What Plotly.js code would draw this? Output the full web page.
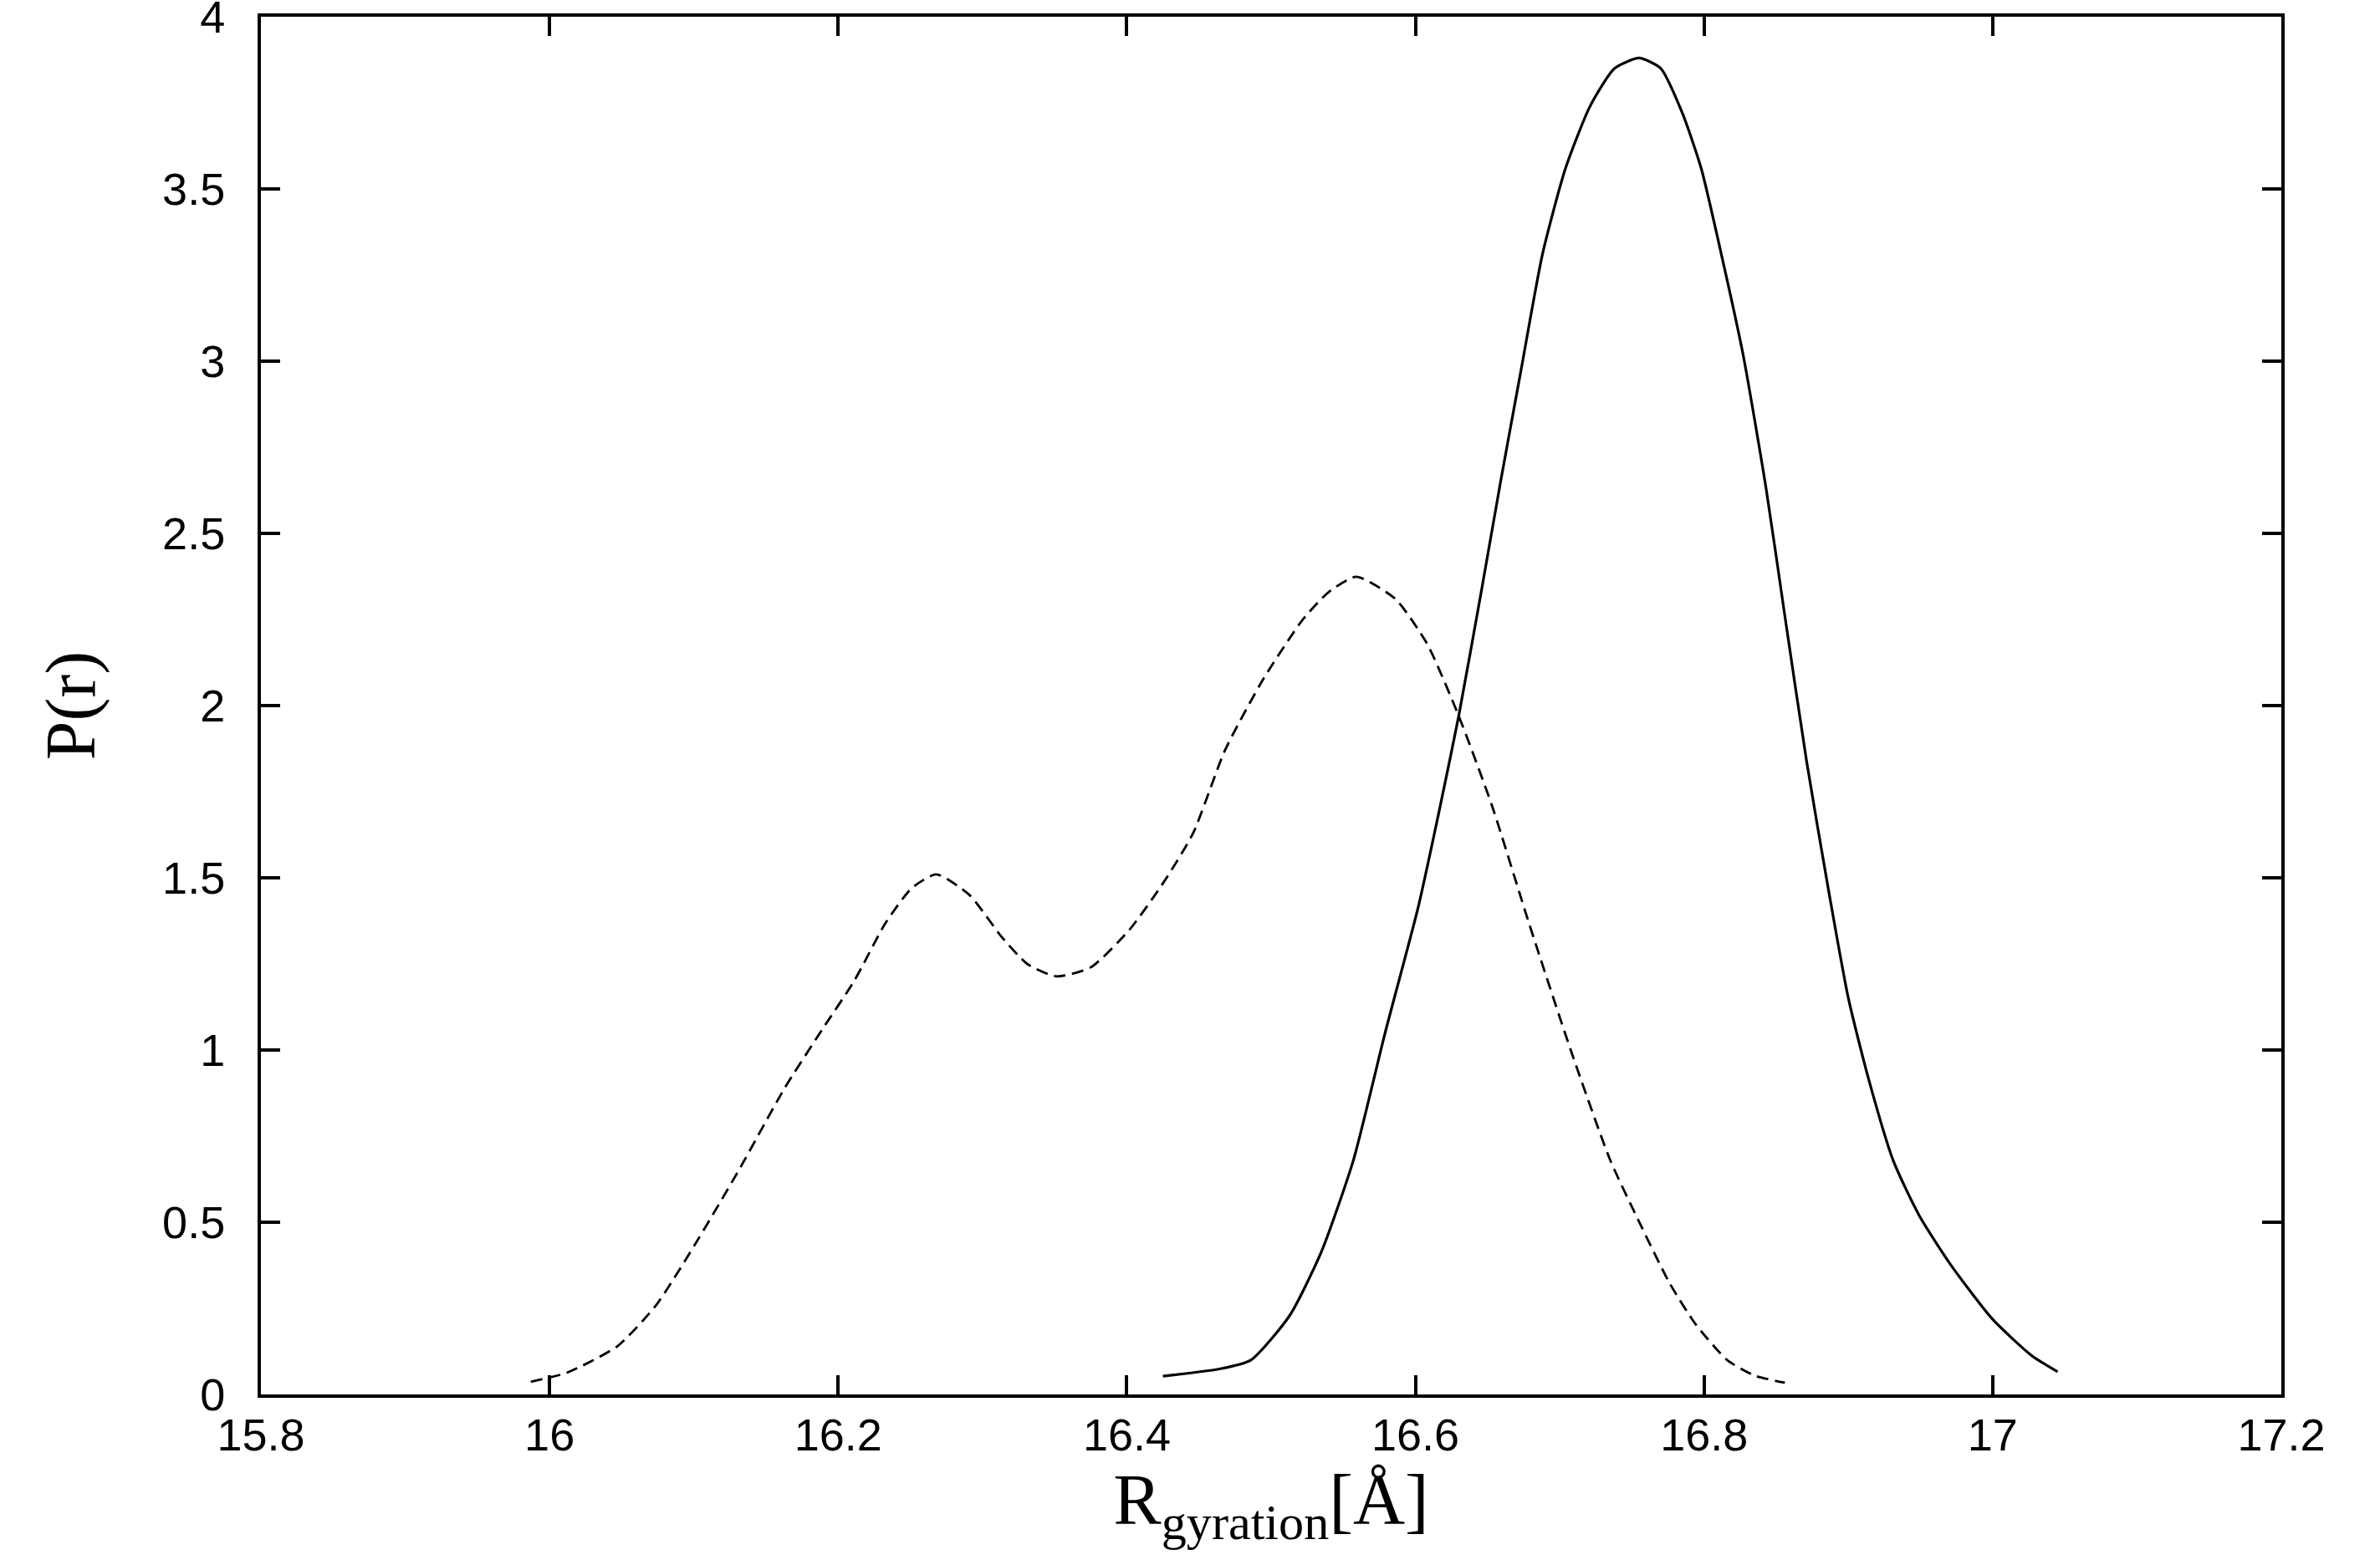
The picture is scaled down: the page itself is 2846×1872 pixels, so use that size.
<!DOCTYPE html>
<html>
<head>
<meta charset="utf-8">
<script src="https://cdn.plot.ly/plotly-3.0.1.min.js"></script>
<style>html,body{margin:0;padding:0;background:#fff;}#chart{width:2846px;height:1872px;}</style>
</head>
<body>
<div id="chart"></div>
<script>
// Dashed curve
var dashedX = [15.987,16.012,16.047,16.074,16.100,16.131,16.163,16.189,16.211,16.233,16.251,16.268,16.291,16.313,16.331,16.351,16.375,16.402,16.426,16.446,16.468,16.495,16.522,16.540,16.559,16.586,16.608,16.630,16.653,16.679,16.708,16.735,16.754,16.776,16.794,16.816,16.835,16.856];
var dashedY = [0.037,0.063,0.14,0.26,0.43,0.65,0.89,1.06,1.20,1.37,1.47,1.51,1.45,1.33,1.25,1.214,1.24,1.35,1.49,1.63,1.87,2.08,2.25,2.33,2.374,2.31,2.18,1.97,1.71,1.364,0.995,0.68,0.51,0.324,0.205,0.10,0.055,0.034];
// Solid curve
var solidX = [16.425,16.464,16.486,16.513,16.535,16.557,16.579,16.602,16.617,16.630,16.646,16.659,16.673,16.688,16.704,16.721,16.738,16.755,16.770,16.785,16.798,16.812,16.827,16.843,16.856,16.871,16.886,16.900,16.914,16.931,16.949,16.971,17.000,17.027,17.045];
var solidY = [0.053,0.074,0.10,0.23,0.416,0.68,1.05,1.416,1.705,1.97,2.34,2.65,2.97,3.31,3.56,3.74,3.85,3.88,3.85,3.72,3.56,3.31,3.02,2.63,2.26,1.84,1.47,1.15,0.916,0.68,0.52,0.376,0.218,0.113,0.066];

var xTicks = [15.8,16,16.2,16.4,16.6,16.8,17,17.2];
var xTickText = ['15.8','16','16.2','16.4','16.6','16.8','17','17.2'];
var yTicks = [0,0.5,1,1.5,2,2.5,3,3.5,4];
var yTickText = ['0','0.5','1','1.5','2','2.5','3','3.5','4'];

var traces = [
  {x: dashedX, y: dashedY, mode: 'lines', type: 'scatter',
   line: {color: '#000', width: 2.8, dash: '14px,8px', shape: 'spline', smoothing: 0.6}},
  {x: solidX, y: solidY, mode: 'lines', type: 'scatter',
   line: {color: '#000', width: 3.2, shape: 'spline', smoothing: 0.6}}
];

var axisCommon = {
  showgrid: false, zeroline: false, showline: true, linecolor: '#000', linewidth: 4,
  mirror: 'ticks', ticks: 'inside', ticklen: 23, tickwidth: 4, tickcolor: '#000',
  tickfont: {family: 'Liberation Sans, Arial, sans-serif', size: 54, color: '#000'},
  ticklabeloverflow: 'allow'
};

var layout = {
  width: 2846, height: 1872,
  margin: {l: 312, r: 118, t: 20, b: 204},
  paper_bgcolor: '#fff', plot_bgcolor: '#fff',
  showlegend: false,
  xaxis: Object.assign({}, axisCommon, {
    range: [15.8, 17.2], tickvals: xTicks, ticktext: xTickText,
    ticklabelstandoff: -2,
    title: {text: 'R<sub>gyration</sub>[Å]', font: {family: 'Liberation Serif, Times New Roman, serif', size: 86, color: '#000'}, standoff: 18}
  }),
  yaxis: Object.assign({}, axisCommon, {
    range: [0, 4], tickvals: yTicks, ticktext: yTickText,
    ticklabelstandoff: 28,
    title: {text: 'P(r)', font: {family: 'Liberation Serif, Times New Roman, serif', size: 84, color: '#000'}, standoff: 54}
  })
};

Plotly.newPlot('chart', traces, layout, {staticPlot: true, displayModeBar: false});
</script>
</body>
</html>
